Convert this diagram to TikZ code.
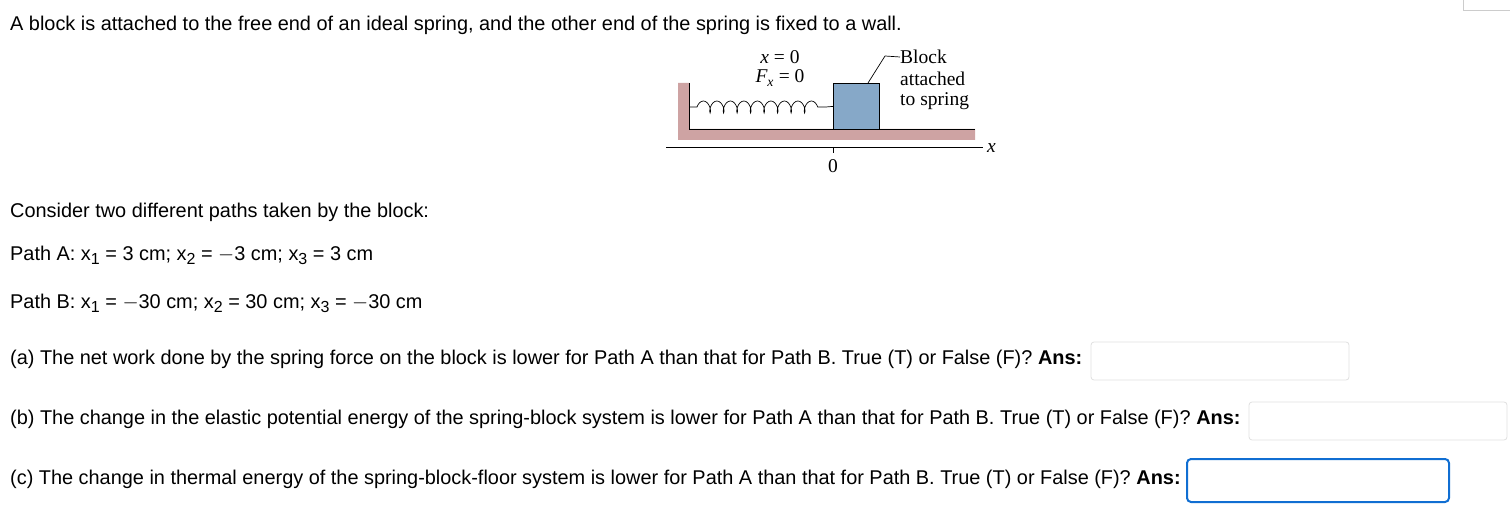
\documentclass[tikz,border=0pt]{standalone}
\usepackage{fontspec}
\setmainfont{Liberation Sans}
\newfontfamily\serf{Liberation Serif}
\usetikzlibrary{decorations.pathmorphing}
\definecolor{wallc}{RGB}{206,163,163}
\definecolor{blkc}{RGB}{134,168,200}
\begin{document}
\begin{tikzpicture}[x=1pt,y=-1pt,
  txt/.style={anchor=west,inner sep=0pt,font=\fontsize{19.9}{23}\selectfont},
  fig/.style={inner sep=0pt,font=\serf\fontsize{19.5}{22}\selectfont},
  ansbox/.style={draw=gray!25,rounded corners=3pt,line width=0.8pt}]
\useasboundingbox (0,0) rectangle (1510,526);
\newcommand{\sbs}[1]{\raisebox{-4pt}{\fontsize{16}{18}\selectfont #1}}
\draw[gray!40] (1463,0) -- (1463,10) -- (1510,10);
\node[txt] (t0) at (10,25) {A block is attached to the free end of an ideal spring, and the other end of the spring is fixed to a wall.};
% figure
\fill[wallc] (678,83) -- (689,83) -- (689,129) -- (975,129) -- (975,140) -- (678,140) -- cycle;
\draw[line width=0.8pt] (689,83) -- (689,129) -- (975,129);
\node[draw,line width=0.8pt,fill=blkc,minimum width=46pt,minimum height=46pt,inner sep=0pt,anchor=north west] (blk) at (833,83) {};
\coordinate (sp0) at (689,107);
\draw[line width=0.7pt] (sp0) -- (697,107) decorate[decoration={coil,aspect=0.5,segment length=13.5pt,amplitude=6pt}]{ -- (826,107)} -- (blk.west);
\draw[line width=0.7pt] (666,147) -- (983,147);
\draw[line width=0.7pt] (833,147) -- (833,153);
\node[fig] (zero) at (833,166) {0};
\node[fig,anchor=west] (xl) at (987,148) {\itshape x};
\node[fig] (x0) at (780,57) {\itshape x\upshape\ = 0};
\node[fig] (f0) at (780,78) {\itshape F\textsubscript{x}\upshape\ = 0};
\node[fig,anchor=west] (b1) at (900,57) {Block};
\node[fig,anchor=west] (b2) at (900,79) {attached};
\node[fig,anchor=west] (b3) at (900,101) {to spring};
\draw[line width=0.7pt] (868,83) -- (885,56) -- (b1.west);
% text
\node[txt] (c) at (10,212) {Consider two different paths taken by the block:};
\node[txt] (pa) at (10,255) {Path A: x\sbs{1} = 3 cm; x\sbs{2} = $-$3 cm; x\sbs{3} = 3 cm};
\node[txt] (pb) at (10,303) {Path B: x\sbs{1} = $-$30 cm; x\sbs{2} = 30 cm; x\sbs{3} = $-$30 cm};
\node[txt] (qa) at (10,359) {(a) The net work done by the spring force on the block is lower for Path A than that for Path B. True (T) or False (F)? \textbf{Ans:}};
\node[txt] (qb) at (10,419) {(b) The change in the elastic potential energy of the spring-block system is lower for Path A than that for Path B. True (T) or False (F)? \textbf{Ans:}};
\node[txt] (qc) at (10,479) {(c) The change in thermal energy of the spring-block-floor system is lower for Path A than that for Path B. True (T) or False (F)? \textbf{Ans:}};
\draw[ansbox] (1091,342) rectangle (1349,380);
\draw[ansbox] (1249,402) rectangle (1507,440);
\draw[rounded corners=4pt,line width=2pt,draw={rgb,255:red,16;green,110;blue,210}] (1187,459) rectangle (1449,502);
\end{tikzpicture}
\end{document}
